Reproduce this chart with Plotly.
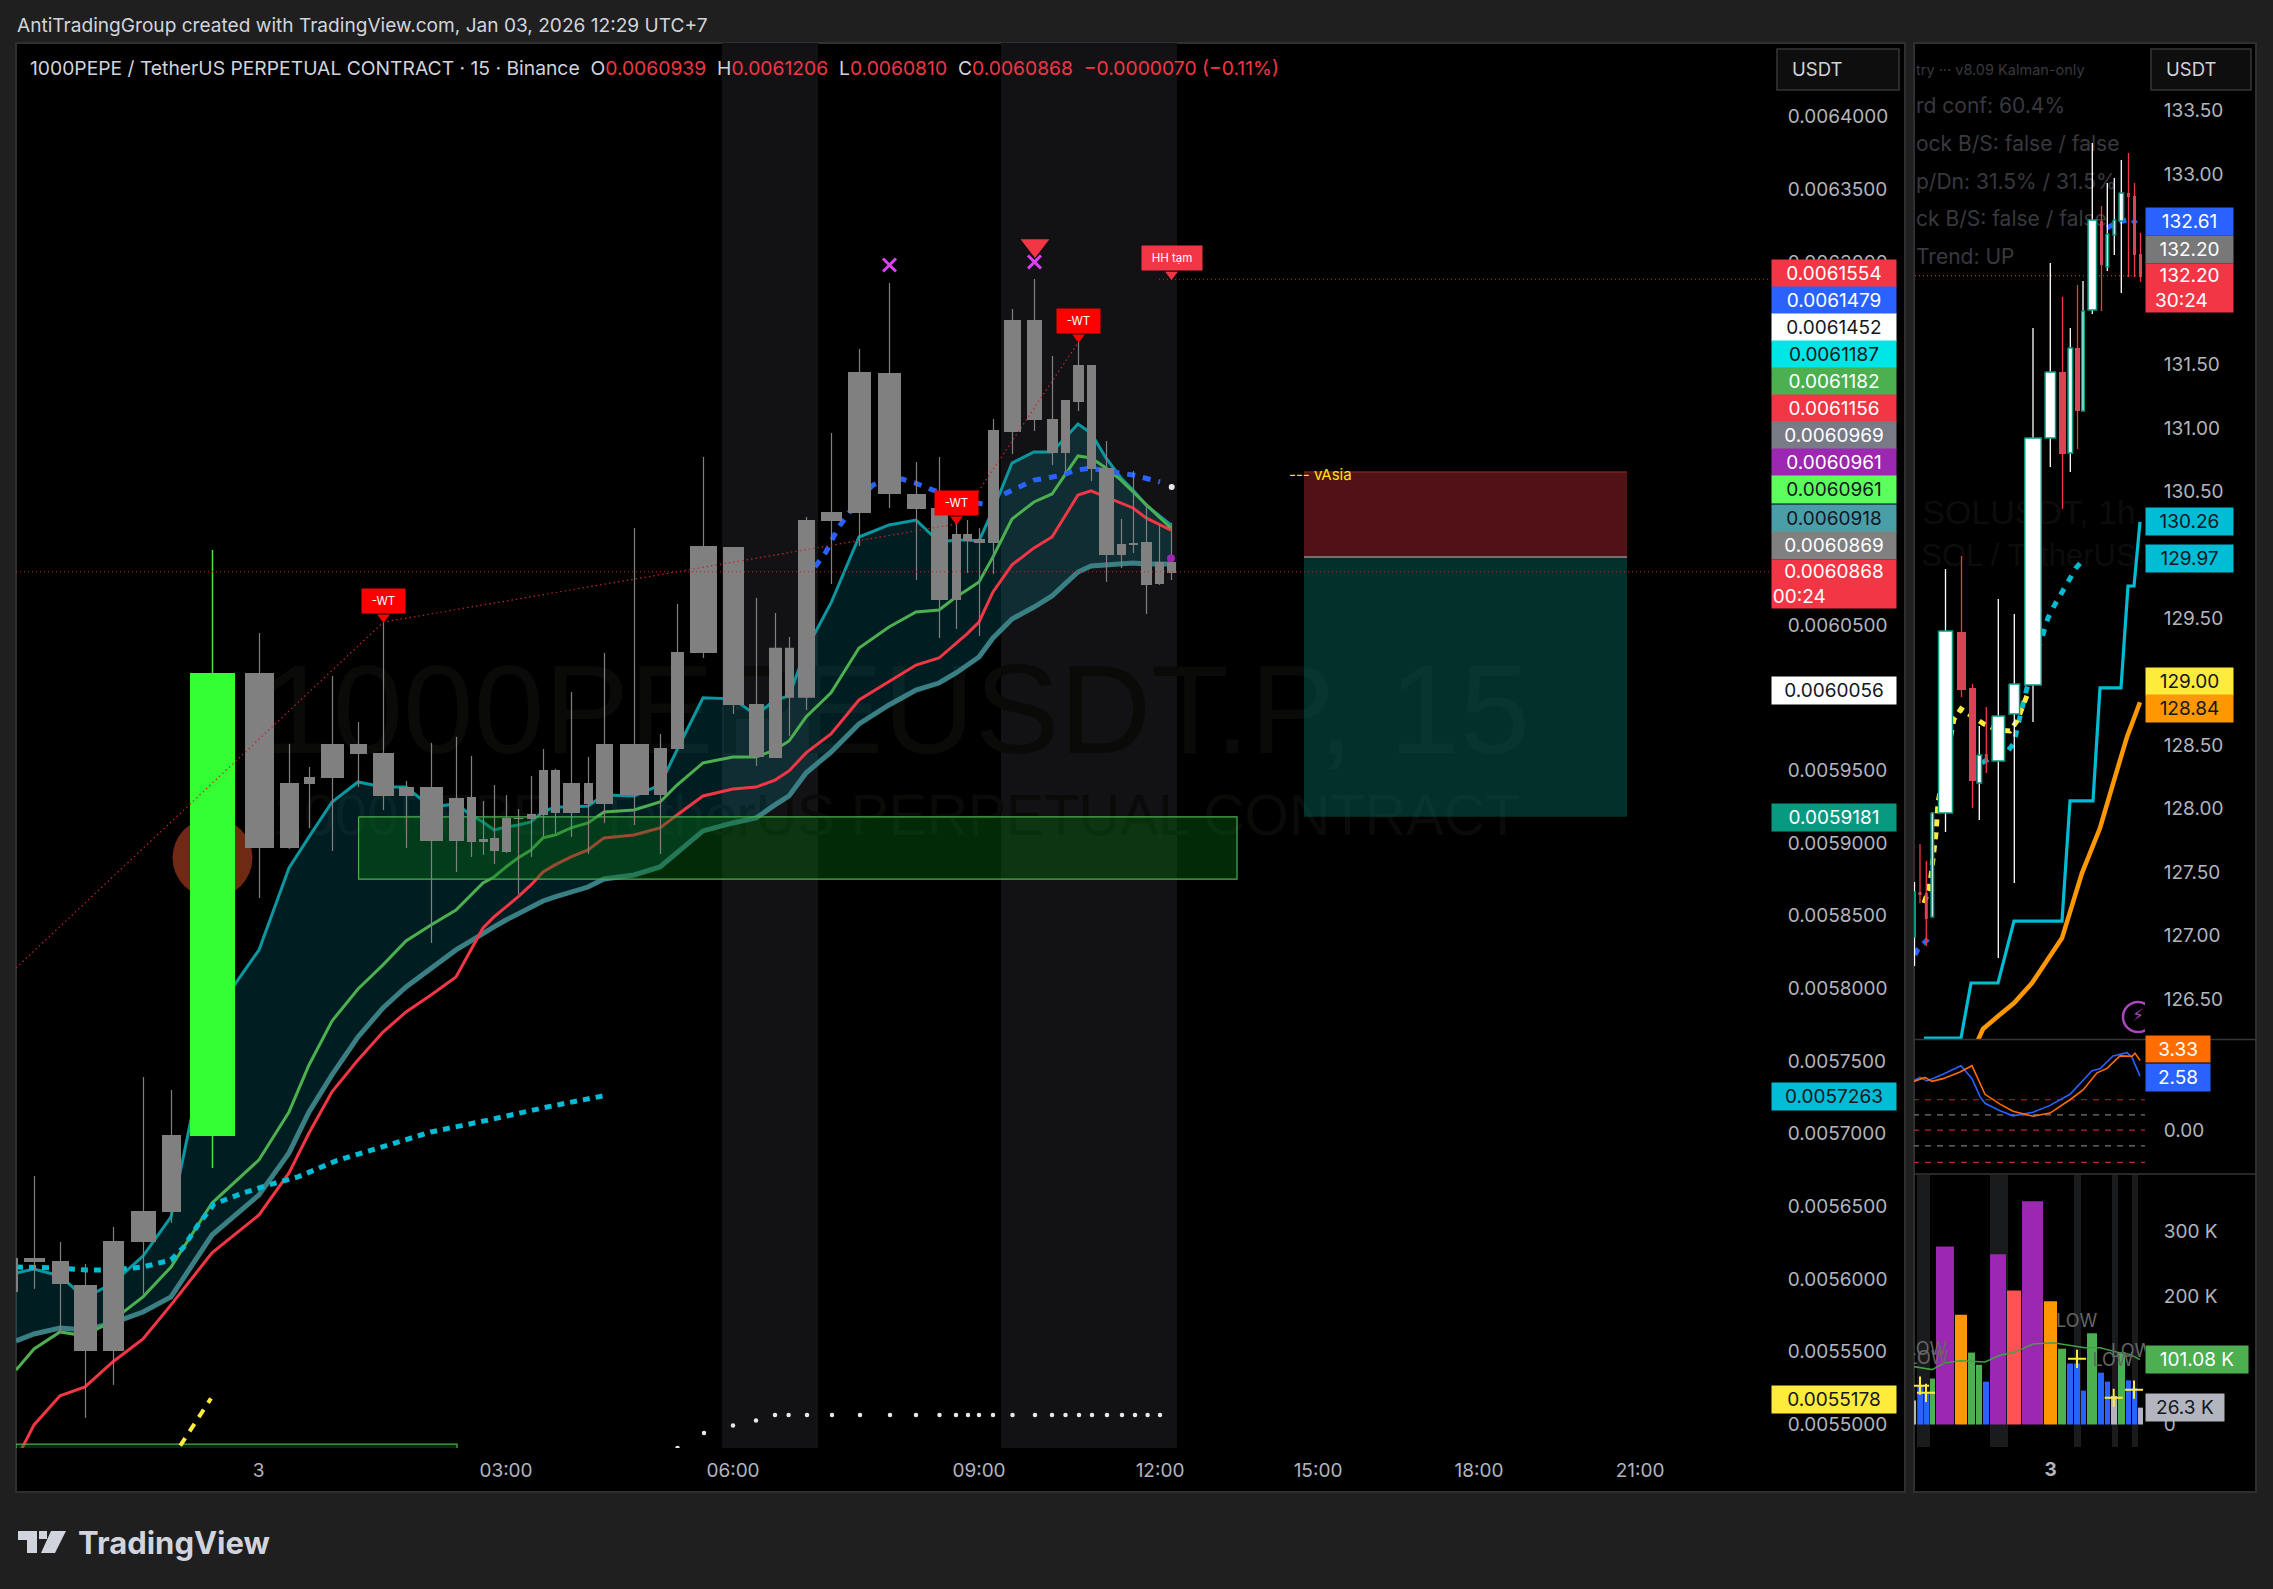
import numpy as np
import plotly.graph_objects as go

W, H = 2273, 1589

# main chart, prices are in units of 1e-7 (60868 = 0.0060868)
candle_x = [17, 34.5, 60.5, 85.5, 113.5, 143.5, 171.5, 259.5, 289.5, 309.5, 332.5, 358.5, 383.5, 406.5, 431.5, 456.5,
            471.5, 483.5, 494.5, 506.5, 518.5, 531.5, 543.5, 555.5, 571.5, 588.5, 604.5, 634.5, 660.5, 677.5, 703.5,
            733.5, 756.5, 775.5, 789.5, 806.5, 831.5, 859.5, 889.5, 916.5, 939.5, 956.5, 967.5, 979.5, 993.5, 1012.5,
            1034.5, 1052.5, 1065.5, 1078.5, 1091.5, 1106.5, 1121.5, 1133.5, 1146.5, 1159.5, 1171.5]
candle_w = [2, 21, 17, 23, 21, 25, 19, 29, 19, 11, 23, 17, 21, 15, 23, 15, 9, 9, 9, 9, 10, 9, 9, 9, 17, 9, 17, 29, 13, 13,
            27, 21, 15, 13, 9, 17, 21, 23, 23, 19, 17, 9, 9, 11, 11, 17, 15, 11, 9, 11, 9, 15, 9, 9, 11, 9, 9]
body_top = [56145, 56145, 56124, 55959, 56262, 56468, 56991, 60171, 59414, 59455, 59683, 59683, 59621, 59386, 59386, 59311,
            59318, 59029, 59036, 59173, 59173, 59200, 59504, 59504, 59414, 59414, 59683, 59683, 59655, 60316, 61045,
            61038, 59957, 60344, 60344, 61224, 61279, 62243, 62236, 61403, 61307, 61128, 61128, 61093, 61844, 62601,
            62601, 61919, 62050, 62291, 62291, 61582, 61059, 61066, 61073, 60935, 60935]
body_bot = [55911, 56117, 55966, 55505, 55505, 56255, 56461, 58967, 58967, 59407, 59449, 59614, 59325, 59325, 59015, 59015,
            59008, 59008, 58946, 58939, 59166, 59166, 59194, 59207, 59207, 59269, 59269, 59332, 59332, 59648, 60309,
            59950, 59593, 59586, 60000, 60000, 61217, 61272, 61403, 61300, 60674, 60674, 61080, 61066, 61066, 61830,
            61912, 61685, 61685, 62036, 61575, 60983, 60983, 61052, 60777, 60784, 60860]
wick_high = [56145, 56709, 56255, 56104, 56358, 57390, 57301, 60447, 59683, 59524, 60151, 59834, 60522, 59428, 59690, 59731,
             59600, 59290, 59400, 59331, 59235, 59462, 59648, 59511, 60040, 59593, 60309, 61169, 59751, 60646, 61658,
             61038, 60688, 60584, 60419, 61245, 61823, 62401, 62855, 61623, 61658, 61224, 61224, 61169, 61919, 62676,
             62883, 62353, 62050, 62449, 62291, 61768, 61231, 61561, 61327, 61190, 61204]
wick_low = [55911, 55932, 55629, 55044, 55271, 55897, 56386, 58623, 58960, 59104, 58946, 59386, 59228, 58967, 58313, 58802,
            58905, 58919, 58857, 58933, 58650, 58905, 59043, 59070, 59043, 58925, 59139, 59125, 58925, 59648, 60275,
            59889, 59531, 59586, 59738, 59916, 60784, 61045, 61307, 60811, 60412, 60474, 60860, 60426, 60853, 61678,
            61837, 61603, 61548, 61974, 61493, 60798, 60894, 60997, 60577, 60777, 60811]

impulse_x, impulse_w = 212.5, 45
impulse_body = [60171, 56984]
impulse_wick = [61018, 56764]

ma_x = [16, 34, 60, 85, 113, 143, 171, 212, 259, 289, 309, 332, 358, 383, 406, 431, 456, 471, 483, 494, 506, 518, 531, 543,
        555, 571, 588, 604, 634, 660, 677, 703, 733, 756, 775, 789, 806, 831, 859, 889, 916, 939, 956, 967, 979, 993,
        1012, 1034, 1052, 1065, 1078, 1091, 1106, 1121, 1133, 1146, 1159, 1171]
ma_teal = [56042, 56069, 56021, 55870, 55973, 56158, 56427, 57804, 58265, 58829, 59043, 59283, 59421, 59386, 59386, 59249,
           59270, 59194, 59146, 59091, 59111, 59125, 59146, 59215, 59249, 59249, 59256, 59332, 59325, 59400, 59641, 60000,
           59993, 59882, 59985, 60013, 60330, 60653, 61107, 61190, 61224, 61073, 61087, 61087, 61080, 61293, 61616, 61692,
           61692, 61789, 61885, 61823, 61651, 61513, 61431, 61327, 61259, 61190]
ma_green = [55374, 55519, 55636, 55609, 55718, 55877, 56083, 56523, 56820, 57150, 57473, 57776, 57996, 58162, 58327, 58437,
            58540, 58643, 58726, 58767, 58836, 58898, 58953, 59036, 59056, 59105, 59139, 59215, 59228, 59283, 59400, 59552,
            59593, 59593, 59641, 59703, 59868, 60034, 60343, 60488, 60591, 60605, 60694, 60742, 60798, 60970, 61231, 61348,
            61403, 61534, 61665, 61651, 61582, 61499, 61417, 61327, 61245, 61169]
ma_red = [54755, 54996, 55196, 55258, 55431, 55588, 55822, 56180, 56441, 56730, 57005, 57288, 57508, 57700, 57838, 57955,
          58079, 58265, 58416, 58492, 58561, 58630, 58712, 58802, 58850, 58905, 58953, 59036, 59056, 59105, 59194, 59325,
          59373, 59386, 59434, 59497, 59621, 59751, 59985, 60109, 60226, 60274, 60378, 60440, 60522, 60729, 60915, 61032,
          61107, 61252, 61396, 61424, 61383, 61341, 61307, 61238, 61197, 61155]
ma_dark = [55574, 55622, 55663, 55650, 55698, 55773, 55877, 56303, 56579, 56868, 57150, 57405, 57666, 57866, 58010, 58141,
           58265, 58327, 58382, 58423, 58471, 58513, 58554, 58602, 58630, 58664, 58698, 58753, 58781, 58836, 58933, 59084,
           59139, 59173, 59263, 59325, 59483, 59627, 59820, 59951, 60054, 60102, 60171, 60226, 60281, 60412, 60543, 60625,
           60701, 60784, 60866, 60908, 60915, 60921, 60928, 60921, 60921, 60921]

cyan_x = [16, 34, 59, 86, 113, 143, 171, 183, 198, 214, 243, 269, 298, 336, 381, 431, 489, 547, 605]
cyan_y = [56083, 56083, 56076, 56062, 56062, 56083, 56131, 56214, 56372, 56516, 56592, 56648, 56703, 56813, 56909, 57012,
          57095, 57184, 57263]
blue_x = [815, 826, 838, 847, 860, 873, 889, 902, 915, 930, 940, 960, 983, 1008, 1021, 1034, 1048, 1062, 1077, 1091, 1106,
          1133, 1160]
blue_y = [60901, 61004, 61169, 61259, 61376, 61465, 61513, 61506, 61479, 61438, 61410, 61362, 61334, 61417, 61465, 61499,
          61513, 61534, 61568, 61582, 61561, 61534, 61486]
yellow_x = [171, 211]
yellow_y = [54755, 55178]
zigzag_x = [16, 383.5, 956.5, 1078.5]
zigzag_y = [58141, 60522, 61197, 62449]
dots_x = [677.5, 704, 733, 756, 775, 788.6, 807, 832, 860, 890, 916, 939.5, 956, 968, 979, 993, 1012.5, 1035, 1052, 1065.5,
          1079, 1092, 1107, 1122, 1135, 1147.6, 1160]
dots_y = [54837, 54941, 54992, 55027] + [55064] * 23

last_close = 60868
hh_level = 62881
hh_start = 1159
session_bands = [(722, 818), (1001, 1177)]
demand_x = [358.6, 1237]
demand_y = [59181, 58753]
low_zone_x = [16, 457]
low_zone_y = [54863, 54700]
box_x = [1304, 1627]
box_stop, box_entry, box_target = 61554, 60969, 59181
cross_x, cross_y = [889.5, 1034.5], [62979, 63000]
sell_tri = (1035, 63113)
wt_x = [383.5, 956.5, 1078.5]
wt_tip = [60522, 61197, 62449]
hh_x, hh_tip = 1171.5, 62881

main_ticks = [258.5, 506, 733, 979, 1160, 1318, 1479, 1640]
main_tick_text = ["3", "03:00", "06:00", "09:00", "12:00", "15:00", "18:00", "21:00"]
main_price_ticks = [0.0064, 0.00635, 0.0063, 0.00605, 0.00595, 0.0059, 0.00585, 0.0058, 0.00575, 0.0057, 0.00565, 0.0056,
                    0.00555, 0.0055]

# SOL 1h pane
sol_x = [1914.5, 1920, 1926.3, 1932.3, 1945.5, 1961.5, 1972.5, 1979.3, 1986.3, 1998.3, 2014.3, 2033, 2050.3, 2062.5, 2070.3,
         2077.5, 2083, 2092.3, 2101.5, 2107.3, 2114.3, 2121.3, 2128.5, 2134.5, 2140.5]
sol_w = [1.5, 3, 3, 2.5, 14, 9, 7, 4.5, 3, 12.5, 10.5, 16.5, 10.5, 7, 4.5, 5, 2.5, 8.5, 3, 2.5, 2.5, 4.5, 3, 3, 3]
sol_top = [127.345, 127.345, 127.337, 127.967, 129.401, 129.393, 128.952, 128.424, 128.432, 128.731, 128.983, 130.921,
           131.441, 131.441, 131.630, 131.630, 131.921, 132.638, 132.630, 132.528, 132.638, 132.851, 132.851, 132.827, 132.370]
sol_bot = [126.990, 127.321, 127.132, 127.148, 127.967, 128.936, 128.219, 128.203, 128.369, 128.377, 128.747, 128.975,
           130.921, 130.795, 130.803, 131.134, 131.134, 131.929, 132.284, 132.268, 132.520, 132.630, 132.819, 132.362, 132.189]
sol_high = [127.423, 127.723, 127.589, 127.975, 129.889, 129.991, 128.983, 128.652, 128.802, 129.653, 129.535, 131.787,
            132.299, 132.032, 131.787, 132.126, 132.158, 133.245, 132.748, 132.929, 132.969, 133.111, 133.166, 132.929, 132.536]
sol_low = [126.762, 127.258, 126.919, 127.148, 127.817, 128.881, 128.006, 127.912, 128.282, 126.825, 127.416, 128.684,
           130.692, 130.362, 130.653, 130.834, 131.134, 131.898, 131.921, 132.236, 132.362, 132.063, 132.189, 132.189, 132.150]
sol_up = [1, 0, 0, 1, 1, 0, 0, 1, 0, 1, 1, 1, 1, 0, 1, 0, 1, 1, 0, 1, 1, 1, 0, 0, 0]
sol_price_ticks = [133.5, 133.0, 131.5, 131.0, 130.5, 129.5, 128.5, 128.0, 127.5, 127.0, 126.5]

step_x = [1924, 1961, 1971, 1998, 2014, 2062, 2070, 2093, 2100, 2121, 2128, 2134, 2140]
step_y = [126.195, 126.195, 126.628, 126.628, 127.116, 127.116, 128.062, 128.062, 128.952, 128.952, 129.755, 129.755, 130.26]
orange_x = [1978, 1983, 1997, 2014, 2032, 2048, 2062, 2082, 2100, 2115, 2127, 2140]
orange_y = [126.179, 126.266, 126.360, 126.470, 126.628, 126.809, 126.982, 127.494, 127.849, 128.250, 128.566, 128.84]
sol_cyan_x = [1982, 1990, 2007, 2014, 2017, 2020, 2023, 2027, 2035, 2043, 2048, 2054, 2062, 2068, 2076, 2084]
sol_cyan_y = [128.361, 128.400, 128.447, 128.518, 128.629, 128.739, 128.849, 128.952, 129.172, 129.393, 129.503, 129.597,
              129.700, 129.795, 129.897, 129.97]
sol_yellow_x = [1924, 1929, 1931, 1933, 1935, 1936, 1937, 1938, 1946, 1954, 1961, 1972, 1984, 1998, 2010, 2017, 2022, 2028]
sol_yellow_y = [127.258, 127.368, 127.471, 127.589, 127.699, 127.809, 127.928, 128.046, 128.384, 128.707, 128.786, 128.731,
                128.668, 128.621, 128.613, 128.692, 128.794, 128.912]
sol_blue_x = [1915, 1918, 1928, None, 2107, 2118, 2132, 2136]
sol_blue_y = [126.85, 126.896, 126.975, None, 132.575, 132.622, 132.646, 132.61]
sol_last = 132.20
info_rows = ["try ··· v8.09 Kalman-only", "rd conf: 60.4%", "ock B/S: false / false", "p/Dn: 31.5% / 31.5%",
             "ck B/S: false / false", "Trend: UP"]
info_price = [133.81, 133.52, 133.22, 132.92, 132.63, 132.33]
info_size = [14.5, 21, 21, 21, 21, 21]

# oscillator pane
osc_blue_x = [1913, 1920, 1927, 1933, 1943, 1961, 1972, 1980, 1985, 2000, 2013, 2033, 2050, 2070, 2092, 2100, 2113, 2127, 2132, 2140]
osc_blue_y = [2.35, 2.52, 2.35, 2.46, 2.67, 3.08, 2.46, 1.60, 1.28, 0.92, 0.68, 0.85, 1.18, 1.71, 2.84, 2.93, 3.55, 3.70, 3.48, 2.58]
osc_orange_x = [1913, 1925, 1932, 1943, 1960, 1972, 1985, 2000, 2013, 2033, 2050, 2070, 2083, 2097, 2107, 2120, 2132, 2135, 2140]
osc_orange_y = [2.31, 2.52, 2.33, 2.46, 2.78, 3.08, 1.71, 1.24, 0.90, 0.66, 0.81, 1.45, 1.92, 2.74, 2.95, 3.55, 3.53, 3.68, 3.33]
osc_red_levels = [1.45, 0.0, -1.55]
osc_gray_levels = [0.73, -0.76]

# volume pane, in thousands
vol_x = [1914.7, 1920.3, 1926.7, 1932.5, 1945, 1961, 1971.5, 1979, 1986, 1998, 2014, 2032.5, 2050.5, 2062, 2070, 2077, 2083.5,
         2092, 2101, 2107.5, 2114, 2121.5, 2128.5, 2134.5, 2140.5]
vol_w = [2.7, 6, 5.3, 5, 18, 12, 7, 6, 6, 16, 14, 21, 13, 8, 6, 6, 5, 10, 6, 5, 6, 7, 5, 5, 5]
vol_y = [37.5, 60.5, 48.7, 71.6, 277, 171, 112, 93, 66.8, 265, 208.6, 347.7, 192, 118, 95, 95, 52.9, 141.9, 80.7, 66.8, 44.5,
         111, 68.8, 57, 26.3]
vol_col = ["#b2b5be", "#2962ff", "#2962ff", "#4caf50", "#9c27b0", "#ff9800", "#4caf50", "#4caf50", "#2962ff", "#9c27b0",
           "#ff5252", "#9c27b0", "#ff9800", "#4caf50", "#2962ff", "#2962ff", "#2962ff", "#4caf50", "#2962ff", "#2962ff",
           "#b2b5be", "#4caf50", "#2962ff", "#2962ff", "#b2b5be"]
vol_ma_x = [1913, 1932, 1945, 1960, 1985, 2000, 2015, 2033, 2053, 2070, 2085, 2100, 2117, 2130, 2140]
vol_ma_y = [90.4, 85.5, 96, 99.4, 97.4, 107.8, 112.7, 125.2, 127.3, 123.8, 119.6, 119.6, 112.7, 109.2, 101.08]
vol_bands = [(1917, 1930), (1990, 2008), (2074, 2081), (2112, 2118), (2132, 2138)]
plus_x = [1920, 1926, 2077, 2113.7, 2134]
plus_y = [60.5, 49.4, 102.2, 41.7, 54.2]
low_x = [1928, 1926.7, 2076.7, 2113, 2131.7]
low_y = [102, 116, 158.6, 98.7, 112.7]

FONT = "Inter"
MARK = "Liberation Sans"
GRAY = "#808080"
TXT = "#b2b5be"


def price(a):
    return [None if v is None else v * 1e-7 for v in a]


def dx(a, b):
    return [a / W, b / W]


def dy(top, bot):
    return [1 - bot / H, 1 - top / H]


def bodies(xs, ws, tops, bots, scale=1.0):
    px_, py_ = [], []
    for x, w, t, b in zip(xs, ws, tops, bots):
        px_ += [x - w / 2, x + w / 2, x + w / 2, x - w / 2, x - w / 2, None]
        py_ += [t * scale, t * scale, b * scale, b * scale, t * scale, None]
    return px_, py_


def wicks(xs, highs, lows, scale=1.0):
    px_, py_ = [], []
    for x, h, l in zip(xs, highs, lows):
        px_ += [x, x, None]
        py_ += [h * scale, l * scale, None]
    return px_, py_


fig = go.Figure()


def line(x, y, color, width, dash="solid", xa="x", ya="y", **kw):
    fig.add_trace(go.Scatter(x=x, y=y, mode="lines", xaxis=xa, yaxis=ya, hoverinfo="skip",
                             line=dict(color=color, width=width, dash=dash), **kw))


def zone(x0, x1, y0, y1, fill, edge=None, ew=1.5, xa="x", ya="y"):
    fig.add_trace(go.Scatter(x=[x0, x1, x1, x0, x0], y=[y0, y0, y1, y1, y0], mode="lines" if edge else "none",
                             fill="toself", fillcolor=fill, hoverinfo="skip", xaxis=xa, yaxis=ya,
                             line=dict(color=edge or fill, width=ew)))


def text(x, y, s, color, size, pos="middle center", xa="x", ya="y", family=FONT):
    fig.add_trace(go.Scatter(x=x, y=y, mode="text", text=s, textposition=pos, hoverinfo="skip", xaxis=xa, yaxis=ya,
                             textfont=dict(color=color, size=size, family=family)))


# watermark sits under everything
text([896], [0.0059837], ["1000PEPEUSDT.P, 15"], "#0a0a08", 127, family=MARK)
text([896], [0.0059157], ["1000PEPE / TetherUS PERPETUAL CONTRACT"], "#0a0a08", 57, family=MARK)

# position box, see-through so the watermark still shows
zone(box_x[0], box_x[1], box_stop * 1e-7, box_entry * 1e-7, "rgba(242,54,69,0.33)", None)
zone(box_x[0], box_x[1], box_entry * 1e-7, box_target * 1e-7, "rgba(8,160,140,0.3)", None)
line(box_x, [box_entry * 1e-7] * 2, "#8a8a8a", 1.5)
line(box_x, [box_stop * 1e-7] * 2, "#7a2025", 1.5)

# ribbon
line(ma_x, price(ma_dark), "rgba(0,0,0,0)", 0)
line(ma_x, price(ma_teal), "#0a97a0", 3, fill="tonexty", fillcolor="rgba(0,188,212,0.16)")
line(ma_x, price(ma_dark), "#397f84", 5)
line(ma_x, price(ma_red), "#f23645", 3)
line(ma_x, price(ma_green), "#4caf50", 3)

zone(demand_x[0], demand_x[1], demand_y[0] * 1e-7, demand_y[1] * 1e-7, "rgba(5,110,15,0.38)", "#4caf50", 1.2)
zone(low_zone_x[0], low_zone_x[1], low_zone_y[0] * 1e-7, low_zone_y[1] * 1e-7, "rgba(5,110,15,0.38)", "#4caf50", 1.2)

line(cyan_x, price(cyan_y), "#00bcd4", 5, "7px,6px")
line(blue_x, price(blue_y), "#2962ff", 5, "8px,8px")
line(yellow_x, price(yellow_y), "#ffeb3b", 4, "9px,8px")

# volume spike marker behind the green bar
fig.add_trace(go.Scatter(x=[impulse_x], y=[0.0058899], mode="markers", hoverinfo="skip",
                         marker=dict(size=80, color="#6e2a12", line=dict(width=0))))

wx, wy = wicks(candle_x, wick_high, wick_low, 1e-7)
line(wx, wy, GRAY, 1.2, connectgaps=False)
bx, by = bodies(candle_x, candle_w, body_top, body_bot, 1e-7)
fig.add_trace(go.Scatter(x=bx, y=by, mode="none", fill="toself", fillcolor=GRAY, hoverinfo="skip"))
line([impulse_x, impulse_x], price(impulse_wick), "#4fe04f", 1.5)
bx, by = bodies([impulse_x], [impulse_w], [impulse_body[0]], [impulse_body[1]], 1e-7)
fig.add_trace(go.Scatter(x=bx, y=by, mode="none", fill="toself", fillcolor="#33ff33", hoverinfo="skip"))

line([16, 1771], [last_close * 1e-7] * 2, "#c22530", 1.2, "1px,3px")
line([hh_start, 1771], [hh_level * 1e-7] * 2, "#c22530", 1.2, "1px,3px")
line(zigzag_x, price(zigzag_y), "#c22530", 1.2, "1.5px,3px")

fig.add_trace(go.Scatter(x=[sell_tri[0]], y=[sell_tri[1] * 1e-7], mode="markers", hoverinfo="skip",
                         marker=dict(symbol="triangle-down", size=25, color="#f23645")))
fig.add_trace(go.Scatter(x=cross_x, y=price(cross_y), mode="markers", hoverinfo="skip",
                         marker=dict(symbol="x-thin", size=13, color="#e040fb", line=dict(width=3, color="#e040fb"))))
fig.add_trace(go.Scatter(x=dots_x, y=price(dots_y), mode="markers", hoverinfo="skip",
                         marker=dict(size=4.5, color="#e8e8e8")))
fig.add_trace(go.Scatter(x=[1171.7], y=[61452e-7], mode="markers", hoverinfo="skip", marker=dict(size=6, color="#e8e8e8")))
fig.add_trace(go.Scatter(x=[1171], y=[60961e-7], mode="markers", hoverinfo="skip", marker=dict(size=8, color="#9c27b0")))
# pointers for the label boxes
fig.add_trace(go.Scatter(x=wt_x, y=[(v + 32) * 1e-7 for v in wt_tip], mode="markers", hoverinfo="skip",
                         marker=dict(symbol="triangle-down", size=11, color="#ff0000")))
fig.add_trace(go.Scatter(x=[hh_x], y=[(hh_tip + 32) * 1e-7], mode="markers", hoverinfo="skip",
                         marker=dict(symbol="triangle-down", size=11, color="#f23645")))
text([1289], [61527e-7], ["--- vAsia"], "#ffe600", 15, "middle right")

# SOL pane
text([2029], [130.31], ["SOLUSDT, 1h"], "#0c0c0c", 34, xa="x2", ya="y2", family=MARK)
text([2029], [129.976], ["SOL / TetherUS"], "#0c0c0c", 31, xa="x2", ya="y2", family=MARK)
text([1916] * len(info_rows), info_price, info_rows, "#38393e", info_size, "middle right", "x2", "y2")
line([1915, 2142], [sol_last] * 2, "#c22530", 1.2, "1px,3px", "x2", "y2")
line(step_x, step_y, "#00bcd4", 3.2, xa="x2", ya="y2")
line(orange_x, orange_y, "#ff9800", 4.5, xa="x2", ya="y2")
line(sol_cyan_x, sol_cyan_y, "#00bcd4", 5, "7px,8px", "x2", "y2")
line(sol_yellow_x, sol_yellow_y, "#ffeb3b", 5, "7px,6px", "x2", "y2")
line(sol_blue_x, sol_blue_y, "#2962ff", 5, "7px,7px", "x2", "y2")

up = [i for i, u in enumerate(sol_up) if u]
dn = [i for i, u in enumerate(sol_up) if not u]
pick = lambda a, idx: [a[i] for i in idx]
wx, wy = wicks(pick(sol_x, up), pick(sol_high, up), pick(sol_low, up))
line(wx, wy, "#ffffff", 1.3, xa="x2", ya="y2")
wx, wy = wicks(pick(sol_x, dn), pick(sol_high, dn), pick(sol_low, dn))
line(wx, wy, "#f23645", 1.3, xa="x2", ya="y2")
bx, by = bodies(pick(sol_x, up), pick(sol_w, up), pick(sol_top, up), pick(sol_bot, up))
fig.add_trace(go.Scatter(x=bx, y=by, mode="lines", fill="toself", fillcolor="#ffffff", hoverinfo="skip", xaxis="x2", yaxis="y2",
                         line=dict(color="#089981", width=1.5)))
bx, by = bodies(pick(sol_x, dn), pick(sol_w, dn), pick(sol_top, dn), pick(sol_bot, dn))
fig.add_trace(go.Scatter(x=bx, y=by, mode="none", fill="toself", fillcolor="#d84455", hoverinfo="skip", xaxis="x2", yaxis="y2"))

fig.add_trace(go.Scatter(x=[2138], y=[126.36], mode="markers+text", text=["⚡"], textposition="middle center", hoverinfo="skip",
                         xaxis="x2", yaxis="y2", textfont=dict(color="#ab47bc", size=17, family="DejaVu Sans"),
                         marker=dict(symbol="circle-open", size=30, color="#ab47bc", line=dict(width=2.5, color="#ab47bc"))))

# oscillator
for lv in osc_red_levels:
    line([1913, 2145], [lv, lv], "#b5233a", 1.2, "6px,6px", "x3", "y3")
for lv in osc_gray_levels:
    line([1913, 2145], [lv, lv], "#777777", 1.2, "6px,6px", "x3", "y3")
line(osc_blue_x, osc_blue_y, "#2962ff", 1.6, xa="x3", ya="y3")
line(osc_orange_x, osc_orange_y, "#ff6d00", 1.6, xa="x3", ya="y3")

# volume
fig.add_trace(go.Bar(x=vol_x, y=vol_y, width=vol_w, marker=dict(color=vol_col, line=dict(width=0)), hoverinfo="skip",
                     xaxis="x4", yaxis="y4"))
line(vol_ma_x, vol_ma_y, "#43a047", 1.5, xa="x4", ya="y4")
text(low_x, low_y, ["LOW"] * len(low_x), "#666666", 18, xa="x4", ya="y4")
fig.add_trace(go.Scatter(x=plus_x, y=plus_y, mode="markers", hoverinfo="skip", xaxis="x4", yaxis="y4",
                         marker=dict(symbol="cross-thin", size=13, color="#ffeb3b", line=dict(width=2, color="#ffeb3b"))))

# chrome
shapes = []


def rect(x0, y0, x1, y1, fill, edge=None, ew=0, layer="below"):
    shapes.append(dict(type="rect", xref="paper", yref="paper", x0=x0 / W, x1=x1 / W, y0=1 - y0 / H, y1=1 - y1 / H,
                       fillcolor=fill, line=dict(color=edge or fill, width=ew), layer=layer))


rect(16, 43, 1905, 1492, "#000000", "#2f2f2f", 2)
rect(1914, 43, 2256, 1492, "#000000", "#2f2f2f", 2)
for a, b in session_bands:
    shapes.append(dict(type="rect", xref="x", yref="paper", x0=a, x1=b, y0=1 - 1448 / H, y1=1 - 43 / H,
                       fillcolor="#121214", line=dict(width=0), layer="below"))
for a, b in vol_bands:
    shapes.append(dict(type="rect", xref="x4", yref="paper", x0=a, x1=b, y0=1 - 1447 / H, y1=1 - 1175 / H,
                       fillcolor="#1a1b1d", line=dict(width=0), layer="below"))
for yy in (1039.5, 1174):
    shapes.append(dict(type="line", xref="paper", yref="paper", x0=1914 / W, x1=2256 / W, y0=1 - yy / H, y1=1 - yy / H,
                       line=dict(color="#363636", width=1.5), layer="above"))


def poly(points, color):
    d = "M" + " L".join(f"{x / W},{1 - y / H}" for x, y in points) + " Z"
    shapes.append(dict(type="path", xref="paper", yref="paper", path=d, fillcolor=color, line=dict(width=0), layer="above"))


# TradingView logo
poly([(18, 1531), (37, 1531), (37, 1553), (27, 1553), (27, 1540), (18, 1540)], "#d1d4dc")
poly([(39, 1531), (47, 1531), (47, 1539), (39, 1539)], "#d1d4dc")
poly([(51, 1531), (66, 1531), (55, 1553), (41, 1553)], "#d1d4dc")

ann = []


def tag(x0, x1, yc, s, bg, fg="#ffffff", h=27, size=19):
    ann.append(dict(xref="paper", yref="paper", x=(x0 + x1) / 2 / W, y=1 - yc / H, xanchor="center", yanchor="middle",
                    width=x1 - x0, height=h, bgcolor=bg, text=s, showarrow=False, borderpad=0,
                    font=dict(color=fg, size=size, family=FONT)))


def note(x, y, s, color, size, anchor="left", family=FONT):
    ann.append(dict(xref="paper", yref="paper", x=x / W, y=1 - y / H, xanchor=anchor, yanchor="middle", text=s,
                    showarrow=False, borderpad=0, font=dict(color=color, size=size, family=family)))


main_tags = [
    (273.4, "0.0061554", "#f23645", "#ffffff"), (300, "0.0061479", "#2962ff", "#ffffff"),
    (327, "0.0061452", "#ffffff", "#131722"), (354.5, "0.0061187", "#00e5e5", "#131722"),
    (382, "0.0061182", "#4caf50", "#ffffff"), (409, "0.0061156", "#f23645", "#ffffff"),
    (436, "0.0060969", "#787b86", "#ffffff"), (463, "0.0060961", "#9c27b0", "#ffffff"),
    (490, "0.0060961", "#5cff5c", "#131722"), (518, "0.0060918", "#4a9ea8", "#131722"),
    (545, "0.0060869", "#808080", "#ffffff"), (690, "0.0060056", "#ffffff", "#131722"),
    (817, "0.0059181", "#089981", "#ffffff"), (1096, "0.0057263", "#00bcd4", "#131722"),
    (1399, "0.0055178", "#ffeb3b", "#131722"),
]
for yc, s, bg, fg in main_tags:
    tag(1772, 1896, yc, s, bg, fg)
tag(1772, 1896, 584, "0.0060868<br>00:24" + "&nbsp;" * 13, "#f23645", h=48)

sol_tags = [(222, "132.61", "#2962ff", "#ffffff"), (249.6, "132.20", "#787878", "#ffffff"),
            (522, "130.26", "#00bcd4", "#131722"), (559, "129.97", "#00bcd4", "#131722"),
            (682, "129.00", "#ffeb3b", "#131722"), (709, "128.84", "#ff9800", "#131722")]
for yc, s, bg, fg in sol_tags:
    tag(2146, 2233, yc, s, bg, fg)
tag(2146, 2233, 287.6, "132.20<br>30:24" + "&nbsp;" * 3, "#f23645", h=48)
tag(2146, 2210, 1049, "3.33", "#ff6d00", h=26)
tag(2146, 2210, 1077, "2.58", "#2962ff")
tag(2146, 2248, 1359, "101.08 K", "#4caf50")
tag(2146, 2224, 1407.6, "26.3 K", "#b2b5be", "#131722")

for x0, x1 in [(1777, 1899), (2151, 2251)]:
    rect(x0, 49, x1, 90, "#0e0e0e", "#363636", 1.5, "above")
    note(x0 + 14, 69.5, "USDT", "#d1d4dc", 18.5)

note(16, 25, "AntiTradingGroup created with TradingView.com, Jan 03, 2026 12:29 UTC+7", "#d1d4dc", 19.1)
note(77, 1542, "<b>TradingView</b>", "#d1d4dc", 31)
R = '<span style="color:#f23645">%s</span>'
note(29, 68,
     "1000PEPE / TetherUS PERPETUAL CONTRACT · 15 · Binance &nbsp;O" + R % "0.0060939" + " &nbsp;H" + R % "0.0061206" + " &nbsp;L"
     + R % "0.0060810" + " &nbsp;C" + R % "0.0060868" + " &nbsp;" + R % "−0.0000070 (−0.11%)", "#d1d4dc", 19.3)

# boxes on the markers, placed on the price axis so they follow the tips
for x, tip, s, bg, w_ in [(wt_x[0], wt_tip[0], "-WT", "#ff0000", 43), (wt_x[1], wt_tip[1], "-WT", "#ff0000", 43),
                          (wt_x[2], wt_tip[2], "-WT", "#ff0000", 43), (hh_x, hh_tip, "HH tạm", "#f23645", 60)]:
    ann.append(dict(xref="x", yref="y", x=x, y=tip * 1e-7, xanchor="center", yanchor="bottom", yshift=8, width=w_, height=24,
                    bgcolor=bg, text=s, showarrow=False, borderpad=0, font=dict(color="#ffffff", size=11.5, family=FONT)))

axis_base = dict(showgrid=False, zeroline=False, showline=False, fixedrange=True)
price_font = dict(color=TXT, size=19, family=FONT)

fig.update_layout(
    width=W, height=H, autosize=False, margin=dict(l=0, r=0, t=0, b=0),
    paper_bgcolor="#1f1f1f", plot_bgcolor="rgba(0,0,0,0)", showlegend=False, barmode="overlay",
    shapes=shapes, annotations=ann, font=dict(family=FONT),
    xaxis=dict(domain=dx(16, 1771), range=[16, 1771], tickvals=main_ticks, ticktext=main_tick_text, tickfont=price_font,
               ticks="outside", ticklen=5, tickcolor="rgba(0,0,0,0)", anchor="y", **axis_base),
    yaxis=dict(domain=dy(43, 1448), range=[54837e-7, 64507e-7], side="right", tickvals=main_price_ticks, tickformat=".7f",
               tickfont=price_font, ticks="outside", ticklen=12, tickcolor="rgba(0,0,0,0)", anchor="x", **axis_base),
    xaxis2=dict(domain=dx(1914, 2145), range=[1914, 2145], showticklabels=False, anchor="y2", **axis_base),
    yaxis2=dict(domain=dy(43, 1039), range=[126.187, 134.032], side="right", tickvals=sol_price_ticks, tickformat=".2f",
                tickfont=price_font, ticks="outside", ticklen=14, tickcolor="rgba(0,0,0,0)", anchor="x2", **axis_base),
    xaxis3=dict(domain=dx(1914, 2145), range=[1914, 2145], showticklabels=False, anchor="y3", **axis_base),
    yaxis3=dict(domain=dy(1040, 1174), range=[-2.105, 4.31], side="right", tickvals=[0], tickformat=".2f", tickfont=price_font,
                ticks="outside", ticklen=14, tickcolor="rgba(0,0,0,0)", anchor="x3", **axis_base),
    xaxis4=dict(domain=dx(1914, 2145), range=[1914, 2145], tickvals=[2050.7], ticktext=["<b>3</b>"], tickfont=price_font,
                ticks="outside", ticklen=5, tickcolor="rgba(0,0,0,0)", anchor="y4", **axis_base),
    yaxis4=dict(domain=dy(1174, 1447), range=[-35, 390], side="right", tickvals=[0, 200, 300],
                ticktext=["0", "200 K", "300 K"], tickfont=price_font, ticks="outside", ticklen=14,
                tickcolor="rgba(0,0,0,0)", anchor="x4", **axis_base),
)

fig.write_html("out.html", config=dict(displayModeBar=False),
               post_script="document.body.style.margin='0';document.body.style.background='#1f1f1f';")
